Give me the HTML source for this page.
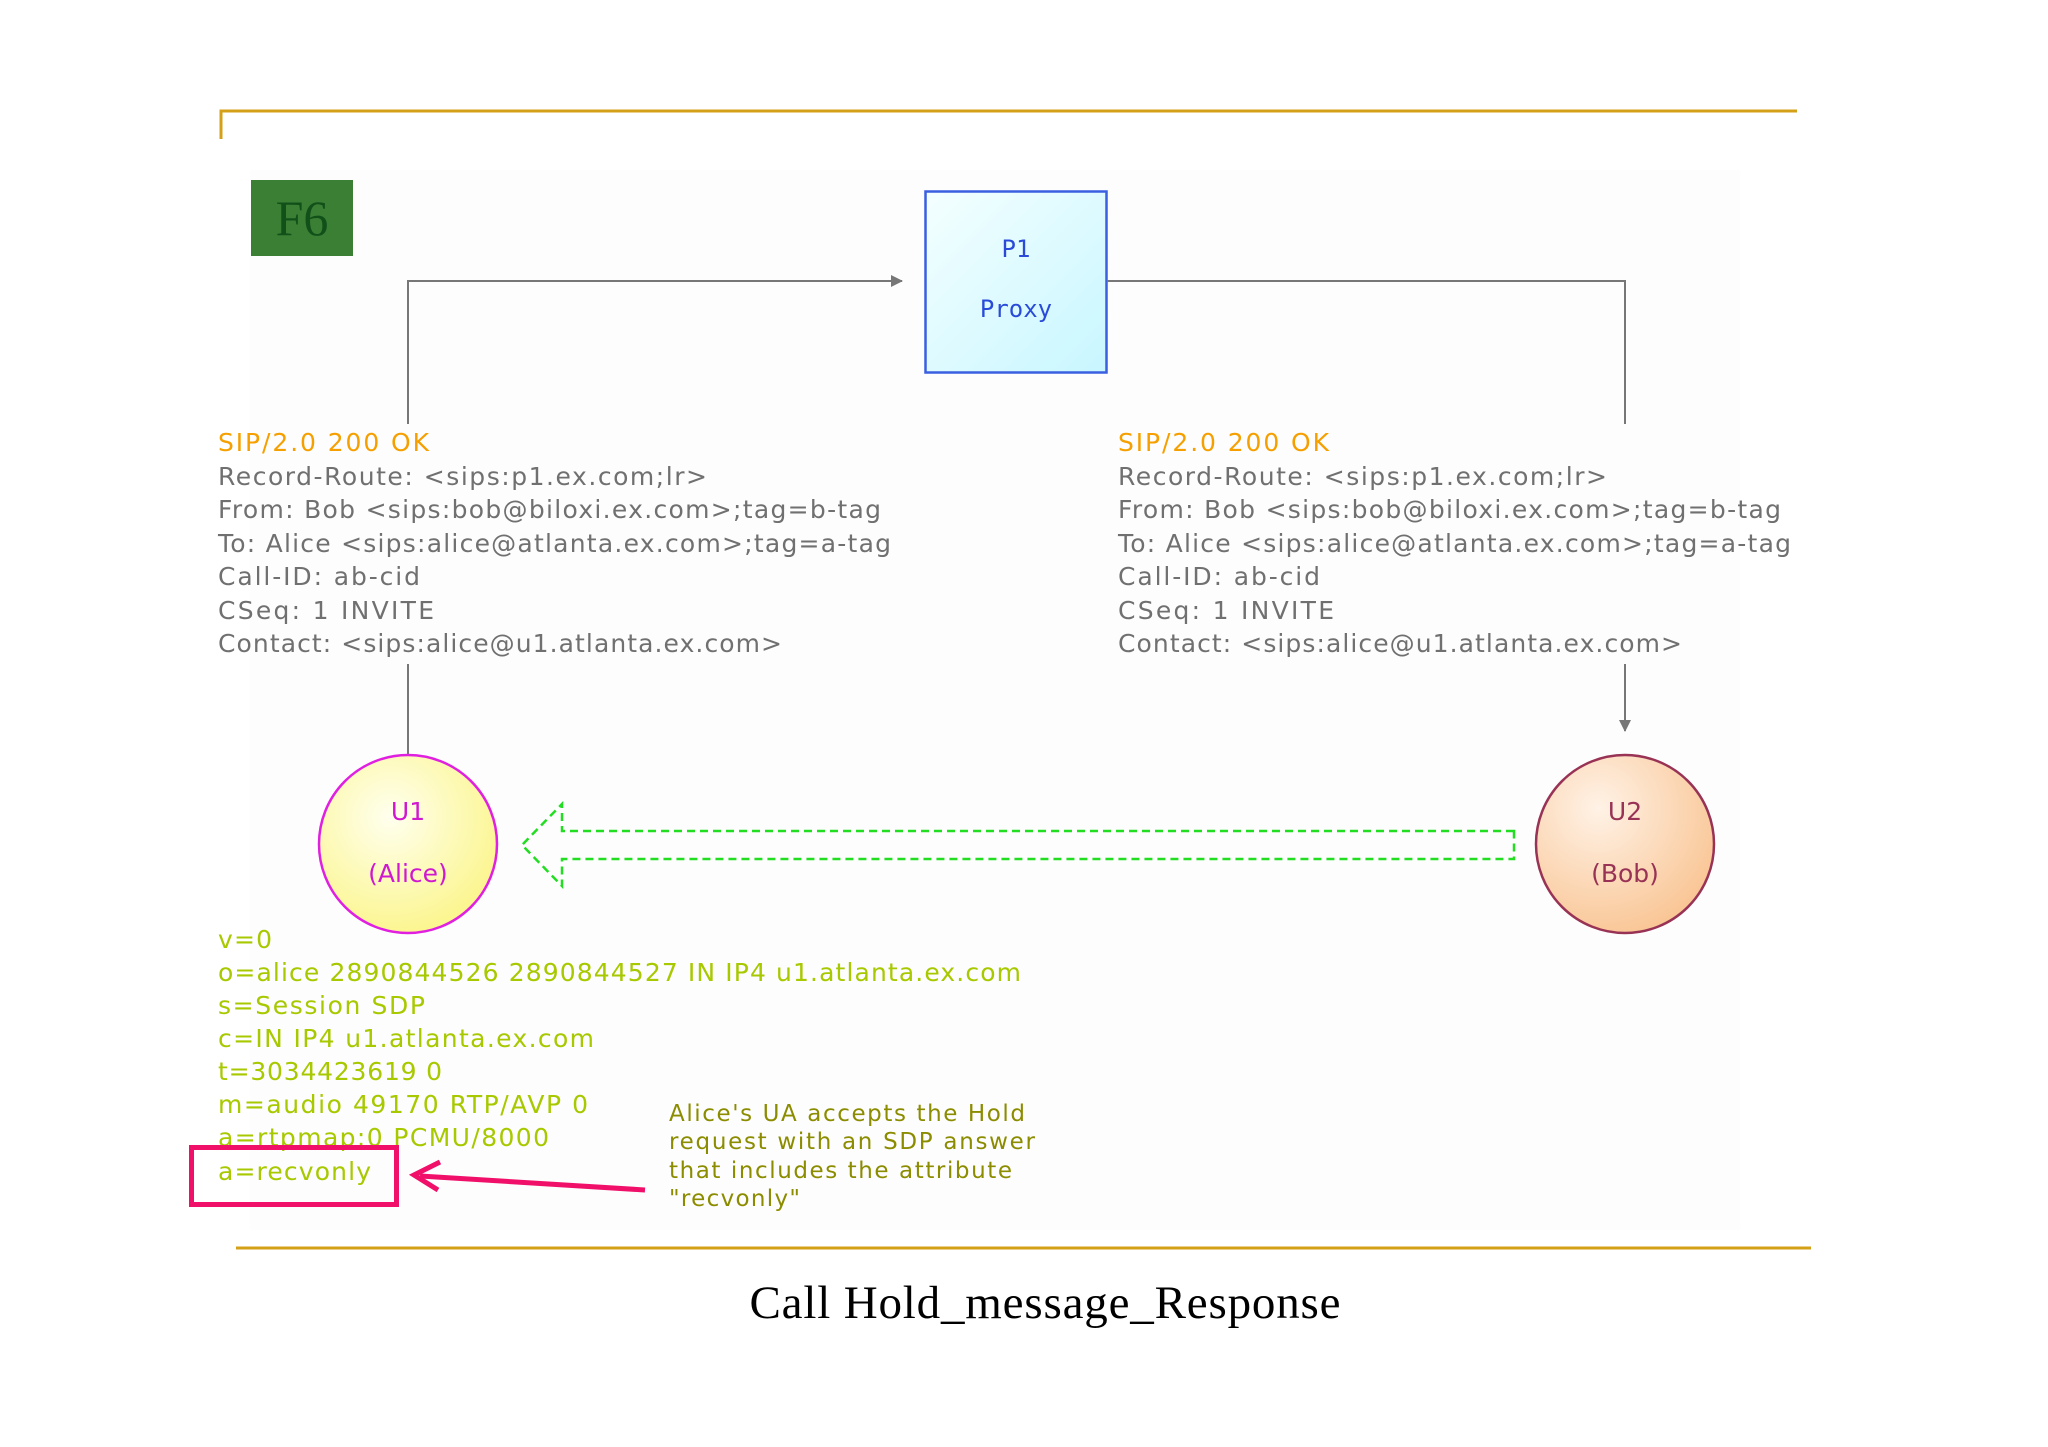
<!DOCTYPE html>
<html><head><meta charset="utf-8"><style>html,body{margin:0;padding:0;background:#fff}svg{display:block}</style></head>
<body>
<svg width="2048" height="1447" viewBox="0 0 2048 1447" xmlns="http://www.w3.org/2000/svg">
<defs>
<linearGradient id="px" x1="0" y1="0" x2="1" y2="1"><stop offset="0" stop-color="#f4ffff"/><stop offset="1" stop-color="#c8f6ff"/></linearGradient>
<radialGradient id="yl" cx="0.4" cy="0.35" r="0.7"><stop offset="0" stop-color="#ffffee"/><stop offset="1" stop-color="#fbf58a"/></radialGradient>
<radialGradient id="pc" cx="0.35" cy="0.3" r="0.75"><stop offset="0" stop-color="#fff2e6"/><stop offset="1" stop-color="#f9c594"/></radialGradient>
<marker id="ah" markerWidth="12" markerHeight="12" refX="11" refY="6" orient="auto" markerUnits="userSpaceOnUse"><path d="M0,0 L12,6 L0,12 Z" fill="#777"/></marker>
</defs>
<rect x="250" y="170" width="1490" height="1060" fill="#fdfdfd"/>
<path d="M221,139 V111 H1797" fill="none" stroke="#d4a017" stroke-width="3"/>
<line x1="236" y1="1248" x2="1811" y2="1248" stroke="#d4a017" stroke-width="3"/>
<rect x="251" y="180" width="102" height="76" fill="#3b7f35"/>
<text x="302" y="235" text-anchor="middle" font-family="Liberation Serif, serif" font-size="50" fill="#12501a">F6</text>
<rect x="925.5" y="191.5" width="181" height="181" fill="url(#px)" stroke="#3a5fe0" stroke-width="2.5"/>
<text x="1016" y="257" text-anchor="middle" font-family="DejaVu Sans Mono, monospace" font-size="24" fill="#2a4ad8">P1</text>
<text x="1016" y="317" text-anchor="middle" font-family="DejaVu Sans Mono, monospace" font-size="24" fill="#2a4ad8">Proxy</text>
<path d="M408,424 V281 H902" fill="none" stroke="#777" stroke-width="2" marker-end="url(#ah)"/>
<path d="M1107,281 H1625 V424" fill="none" stroke="#777" stroke-width="2"/>
<line x1="408" y1="664" x2="408" y2="754" stroke="#777" stroke-width="2"/>
<line x1="1625" y1="664" x2="1625" y2="731" stroke="#777" stroke-width="2" marker-end="url(#ah)"/>
<g font-family="DejaVu Sans, sans-serif" font-size="25" fill="#707070">
<text x="218" y="451" fill="#f5a000" textLength="211">SIP/2.0 200 OK</text>
<text x="218" y="485" textLength="489">Record-Route: &lt;sips:p1.ex.com;lr&gt;</text>
<text x="218" y="518" textLength="663">From: Bob &lt;sips:bob@biloxi.ex.com&gt;;tag=b-tag</text>
<text x="218" y="552" textLength="673">To: Alice &lt;sips:alice@atlanta.ex.com&gt;;tag=a-tag</text>
<text x="218" y="585" textLength="202">Call-ID: ab-cid</text>
<text x="218" y="619" textLength="216">CSeq: 1 INVITE</text>
<text x="218" y="652" textLength="564">Contact: &lt;sips:alice@u1.atlanta.ex.com&gt;</text>
<text x="1118" y="451" fill="#f5a000" textLength="211">SIP/2.0 200 OK</text>
<text x="1118" y="485" textLength="489">Record-Route: &lt;sips:p1.ex.com;lr&gt;</text>
<text x="1118" y="518" textLength="663">From: Bob &lt;sips:bob@biloxi.ex.com&gt;;tag=b-tag</text>
<text x="1118" y="552" textLength="673">To: Alice &lt;sips:alice@atlanta.ex.com&gt;;tag=a-tag</text>
<text x="1118" y="585" textLength="202">Call-ID: ab-cid</text>
<text x="1118" y="619" textLength="216">CSeq: 1 INVITE</text>
<text x="1118" y="652" textLength="564">Contact: &lt;sips:alice@u1.atlanta.ex.com&gt;</text>
</g>
<ellipse cx="408" cy="844" rx="89" ry="89" fill="url(#yl)" stroke="#e020e0" stroke-width="2.5"/>
<text x="408" y="820" text-anchor="middle" font-family="DejaVu Sans, sans-serif" font-size="25" fill="#d018d0">U1</text>
<text x="408" y="882" text-anchor="middle" font-family="DejaVu Sans, sans-serif" font-size="25" fill="#d018d0">(Alice)</text>
<ellipse cx="1625" cy="844" rx="89" ry="89" fill="url(#pc)" stroke="#993355" stroke-width="2.5"/>
<text x="1625" y="820" text-anchor="middle" font-family="DejaVu Sans, sans-serif" font-size="25" fill="#993355">U2</text>
<text x="1625" y="882" text-anchor="middle" font-family="DejaVu Sans, sans-serif" font-size="25" fill="#993355">(Bob)</text>
<path d="M1514,831 H562 V804 L522,845 L562,886 V859 H1514 Z" fill="none" stroke="#22dd22" stroke-width="2.5" stroke-dasharray="8,5"/>
<g font-family="DejaVu Sans, sans-serif" font-size="25" fill="#a8c800">
<text x="218" y="948" textLength="54">v=0</text>
<text x="218" y="981" textLength="803">o=alice 2890844526 2890844527 IN IP4 u1.atlanta.ex.com</text>
<text x="218" y="1014" textLength="207">s=Session SDP</text>
<text x="218" y="1047" textLength="376">c=IN IP4 u1.atlanta.ex.com</text>
<text x="218" y="1080" textLength="224">t=3034423619 0</text>
<text x="218" y="1113" textLength="370">m=audio 49170 RTP/AVP 0</text>
<text x="218" y="1146" textLength="331">a=rtpmap:0 PCMU/8000</text>
<text x="218" y="1180" textLength="153">a=recvonly</text>
</g>
<rect x="191.5" y="1147.5" width="205" height="57" fill="none" stroke="#f0106a" stroke-width="5"/>
<line x1="645" y1="1190" x2="420" y2="1176" stroke="#f0106a" stroke-width="5"/>
<path d="M440,1162 L414,1175 L438,1190" fill="none" stroke="#f0106a" stroke-width="5"/>
<g font-family="DejaVu Sans, sans-serif" font-size="23" fill="#8c8c00">
<text x="669" y="1121" textLength="356">Alice's UA accepts the Hold</text>
<text x="669" y="1149" textLength="366">request with an SDP answer</text>
<text x="669" y="1178" textLength="343">that includes the attribute</text>
<text x="669" y="1206" textLength="131">"recvonly"</text>
</g>
<text x="1045" y="1318" text-anchor="middle" font-family="Liberation Serif, serif" font-size="47" fill="#000" textLength="591">Call Hold_message_Response</text>
</svg>
</body></html>
